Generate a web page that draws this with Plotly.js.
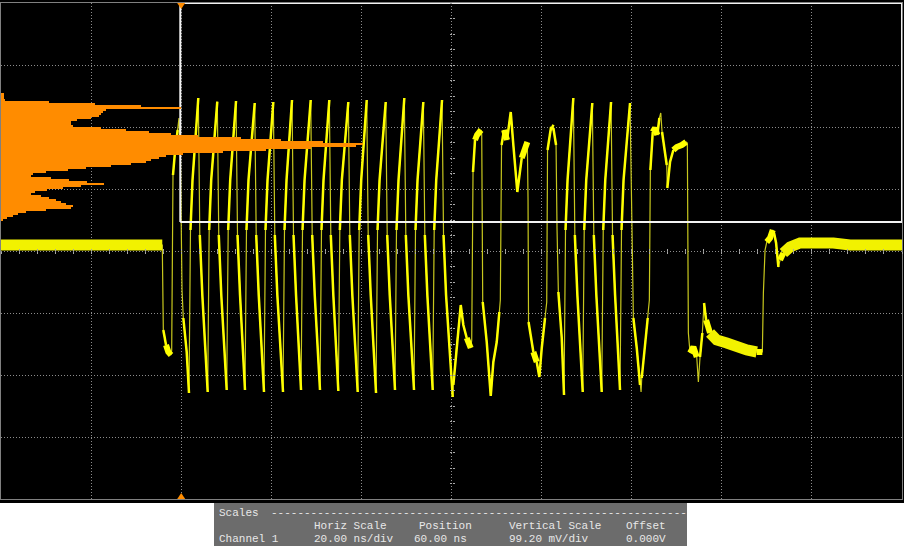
<!DOCTYPE html>
<html><head><meta charset="utf-8">
<script src="https://cdn.plot.ly/plotly-3.0.1.min.js"></script>
<style>html,body{margin:0;padding:0;background:#fff;}#chart{width:904px;height:546px;}</style>
</head><body><div id="chart"></div>
<script>
// ---- scope settings ----
const hScaleNs = 20, positionNs = 60, vScaleMv = 99.2, offsetV = 0;
const nDivX = 10, nDivY = 8;
const triggerNs = [0];
const channelName = "Channel 1";

// ---- channel 1 waveform (time ns, voltage mV) ----
const waveNs = [-40.00,-4.20,-3.97,-3.37,-2.86,-2.26,-2.11,-1.82,-1.38,-0.78,-0.49,-0.16,0.18,0.47,1.22,
1.73,2.06,2.51,3.80,4.13,4.69,
5.88,6.21,6.66,8.01,8.34,8.90,
10.10,10.43,10.88,12.17,12.50,13.06,
14.16,14.49,14.94,16.32,16.65,17.21,
18.38,18.71,19.16,20.45,20.78,21.34,
22.60,22.93,23.38,24.60,24.93,25.49,
26.60,26.93,27.38,28.75,29.08,29.64,
30.81,31.14,31.59,32.88,33.21,33.77,
34.88,35.21,35.66,37.10,37.43,37.99,
39.18,39.51,39.96,41.18,41.51,42.07,
43.25,43.58,44.03,45.40,45.73,46.29,
47.46,47.79,48.24,49.53,49.86,50.42,
51.68,52.01,52.46,53.75,54.08,54.64,
55.83,56.16,56.61,57.90,58.23,58.79,
60.27,60.41,61.16,62.05,62.63,63.38,64.27,64.49,64.78,65.22,65.67,66.56,66.71,66.93,67.82,68.71,69.29,70.04,70.62,70.84,71.11,71.66,72.33,73.15,73.73,74.61,75.59,76.83,76.99,77.10,78.17,78.92,79.50,80.03,80.76,81.14,81.32,82.10,82.61,83.21,83.43,83.72,84.47,84.98,
85.31,85.76,87.05,87.38,87.94,
89.13,89.46,89.91,91.26,91.59,92.15,
93.35,93.68,94.13,95.42,95.75,96.31,
97.41,97.74,98.19,99.63,
100.01,100.37,101.12,101.85,102.08,102.23,102.96,103.56,103.92,104.14,104.67,105.18,105.69,106.14,106.45,106.74,107.18,107.78,107.91,108.51,109.25,110.00,111.11,112.07,112.35,112.51,112.58,112.95,113.69,114.44,114.80,115.17,115.68,116.06,116.51,117.39,118.88,121.10,123.32,125.54,127.76,129.00,129.23,129.60,129.98,130.71,131.31,131.60,132.05,132.56,132.93,133.67,135.15,137.37,140.33,144.77,148.47,152.18,155.87,160.00];
const waveMv = [9.6,9.6,-126.4,-150.4,-161.6,-166.4,-158.4,121.6,158.4,193.6,212.8,145.6,-62.4,-107.2,-161.6,
-227.2,33.6,113.6,244.8,25.6,-70.4,
-225.6,33.6,113.6,238.9,25.6,-70.4,
-222.4,33.6,113.6,240.0,25.6,-70.4,
-222.4,33.6,113.6,236.8,25.6,-70.4,
-225.6,33.6,113.6,238.4,25.6,-70.4,
-225.6,33.6,113.6,241.6,25.6,-70.4,
-222.4,33.6,113.6,241.6,25.6,-70.4,
-222.4,33.6,113.6,241.6,25.6,-70.4,
-224.0,33.6,113.6,238.4,25.6,-70.4,
-225.6,33.6,113.6,241.6,25.6,-70.4,
-227.2,33.6,113.6,238.4,25.6,-70.4,
-222.4,33.6,113.6,244.8,25.6,-70.4,
-222.4,33.6,113.6,238.4,25.6,-70.4,
-222.4,33.6,113.6,241.6,25.6,-70.4,
-233.6,-214.4,-150.4,-86.4,-118.4,-139.2,-155.2,-142.4,126.4,177.6,185.6,193.6,185.6,-81.6,-145.6,-232.0,-177.6,-145.6,-97.6,-78.4,169.6,193.6,177.6,222.4,169.6,94.4,148.8,174.4,81.6,-113.6,-161.6,-177.6,-201.6,-155.2,-107.2,-81.6,161.6,198.4,196.8,169.6,33.6,-65.6,-139.2,-230.4,
33.6,113.6,244.8,25.6,-70.4,
-225.6,33.6,113.6,236.8,25.6,-70.4,
-225.6,33.6,113.6,238.4,25.6,-70.4,
-222.4,33.6,113.6,236.8,
17.6,-107.2,-155.2,-214.4,-225.6,-203.2,-150.4,-107.2,-78.4,129.6,190.4,196.8,185.6,212.8,220.8,190.4,169.6,137.6,100.8,142.4,161.6,166.4,169.6,174.4,172.8,-78.4,-131.2,-163.2,-153.6,-169.6,-209.6,-169.6,-131.2,-83.2,-110.4,-131.2,-142.4,-147.2,-153.6,-158.4,-161.6,-161.6,-67.2,1.6,14.4,20.8,33.6,28.8,12.8,-25.6,-14.4,-3.2,6.4,12.8,14.4,12.8,9.6,9.6,9.6,9.6];

// ---- vertical histogram of the gated window ----
const histMv = [251.2,248.0,244.8,241.6,238.4,235.2,232.0,228.8,225.6,222.4,219.2,216.0,212.8,209.6,206.4,203.2,200.0,196.8,193.6,190.4,187.2,184.0,180.8,177.6,174.4,171.2,168.0,164.8,161.6,158.4,155.2,152.0,148.8,145.6,142.4,139.2,136.0,132.8,129.6,126.4,123.2,120.0,116.8,113.6,110.4,107.2,104.0,100.8,97.6,94.4,91.2,88.0,84.8,81.6,78.4,75.2,72.0,68.8,65.6,62.4,59.2,56.0,52.8,49.6];
const histHits = [3,3,3,4,48,94,140,180,105,102,100,98,90,76,70,70,72,100,125,148,170,197,240,280,322,362,355,310,265,222,182,165,158,150,145,130,110,85,67,45,32,30,50,68,86,103,80,62,46,34,30,40,48,55,60,65,72,70,45,25,17,12,6,2];
const histBinMv = 3.2;
const histFullScaleHits = 901;
const histWindowNs = [-0.2, 160];
const histWindowMv = [46.4, 396.8];

// ---- geometry ----
const W = 904, H = 546, M = {l:1, r:2, t:3, b:47};
const PW = W - M.l - M.r, PH = H - M.t - M.b;
const px2x = p => (p - M.l) / PW;
const py2y = p => (H - M.b - p) / PH;

const xRange = [positionNs - hScaleNs*nDivX/2, positionNs + hScaleNs*nDivX/2];
const yRange = [offsetV - vScaleMv*nDivY/2, offsetV + vScaleMv*nDivY/2];

// classify each waveform segment: fast edges are drawn thin, slow parts thick, long plateaus as a wide noise band
function kindOf(i){
  const dt = waveNs[i+1] - waveNs[i];
  const sl = Math.abs(waveMv[i+1] - waveMv[i]) / dt;
  if (dt < 0.4) return 'edge';
  if (sl < 25) return dt >= 1.4 ? 'band' : 'flat';
  return 'slow';
}
function segs(kind){
  const xs = [], ys = []; let last = -2;
  for (let i = 0; i < waveNs.length - 1; i++){
    if (kindOf(i) !== kind) continue;
    if (last !== i){ if (xs.length){ xs.push(null); ys.push(null); } xs.push(waveNs[i]); ys.push(waveMv[i]); }
    xs.push(waveNs[i+1]); ys.push(waveMv[i+1]); last = i + 1;
  }
  return {xs, ys};
}
const slow = segs('slow'), flat = segs('flat'), band = segs('band');

const yellow = '#ffff00', orange = '#ff8c00';
const traces = [
  {type:'scatter', mode:'lines', x:waveNs, y:waveMv, line:{color:'rgb(200,200,30)', width:1.2}, hoverinfo:'skip'},
  {type:'scatter', mode:'lines', x:slow.xs, y:slow.ys, line:{color:yellow, width:2.5}, connectgaps:false, hoverinfo:'skip'},
  {type:'scatter', mode:'lines', x:flat.xs, y:flat.ys, line:{color:yellow, width:6}, connectgaps:false, hoverinfo:'skip'},
  {type:'scatter', mode:'lines', x:band.xs, y:band.ys, line:{color:'#f2f200', width:11}, connectgaps:false, hoverinfo:'skip'},
  {type:'scatter', mode:'lines',
   x:[histWindowNs[0], histWindowNs[1], histWindowNs[1], histWindowNs[0], histWindowNs[0]],
   y:[histWindowMv[0], histWindowMv[0], histWindowMv[1], histWindowMv[1], histWindowMv[0]],
   line:{color:'#f2f2f2', width:2}, hoverinfo:'skip'},
  {type:'bar', orientation:'h', x:histHits, y:histMv, width:histBinMv, xaxis:'x2', yaxis:'y',
   marker:{color:orange, line:{width:0}}, hoverinfo:'skip'},
  {type:'scatter', x:[], y:[], xaxis:'x3', yaxis:'y', hoverinfo:'skip'},
  {type:'scatter', x:[], y:[], xaxis:'x4', yaxis:'y', hoverinfo:'skip'},
  {type:'scatter', x:[], y:[], xaxis:'x', yaxis:'y3', hoverinfo:'skip'},
  {type:'scatter', x:[], y:[], xaxis:'x', yaxis:'y4', hoverinfo:'skip'}
];

const gridC = '#8c8c8c', tickC = '#a8a8a8';
const baseX = {range:xRange, autorange:false, tick0:xRange[0], dtick:hScaleNs, showgrid:true, gridcolor:gridC, griddash:'1px,2px', gridwidth:1,
  zeroline:false, showline:true, mirror:true, linecolor:'#808080', linewidth:1, ticks:'', showticklabels:false, fixedrange:true};
const baseY = {range:yRange, autorange:false, tick0:offsetV, dtick:vScaleMv, showgrid:true, gridcolor:gridC, griddash:'1px,2px', gridwidth:1,
  zeroline:false, showline:true, mirror:true, linecolor:'#808080', linewidth:1, ticks:'', showticklabels:false, fixedrange:true};
const cX = (t) => ({overlaying:'x', anchor:'free', position:0.5, range:xRange, autorange:false, tick0:positionNs, dtick:hScaleNs/5,
  ticks:t, ticklen:2, tickwidth:1, tickcolor:tickC, showticklabels:false, showgrid:false, zeroline:false, showline:false, fixedrange:true});
const cY = (t) => ({overlaying:'y', anchor:'free', position:0.5, range:yRange, autorange:false, tick0:offsetV, dtick:vScaleMv/4,
  ticks:t, ticklen:2, tickwidth:1, tickcolor:tickC, showticklabels:false, showgrid:false, zeroline:false, showline:false, fixedrange:true});

const txtFont = {family:'"Liberation Mono", "DejaVu Sans Mono", monospace', size:11, color:'#e8e8e8'};
function ann(text, pxX, pyY){
  return {text, x:px2x(pxX), y:py2y(pyY), xref:'paper', yref:'paper', xanchor:'left', yanchor:'middle',
          showarrow:false, font:txtFont, borderpad:0};
}
const fmt = (v, d) => v.toFixed(d);
const row1 = 512.5, row2 = 525.5, row3 = 538.5;
const annotations = [
  ann('Scales', 218, row1),
  ann('-'.repeat(63), 270, row1),
  ann('Horiz Scale', 313, row2),
  ann('Position', 418, row2),
  ann('Vertical Scale', 508, row2),
  ann('Offset', 625, row2),
  ann(channelName, 218, row3),
  ann(fmt(hScaleNs,2) + ' ns/div', 313, row3),
  ann(fmt(positionNs,2) + ' ns', 413, row3),
  ann(fmt(vScaleMv,2) + ' mV/div', 508, row3),
  ann(fmt(offsetV,3) + 'V', 625, row3)
];

const shapes = [
  {type:'rect', xref:'paper', yref:'paper', x0:-0.01, x1:1.01, y0:py2y(552), y1:py2y(503), fillcolor:'#ffffff', line:{width:0}, layer:'above'},
  {type:'rect', xref:'paper', yref:'paper', x0:px2x(214), x1:px2x(687), y0:py2y(547), y1:py2y(503), fillcolor:'#6c6c6c', line:{width:0}, layer:'above'},
  {type:'path', xref:'x', yref:'y', xsizemode:'pixel', ysizemode:'pixel', xanchor:triggerNs[0], yanchor:yRange[1],
   path:'M-4,0L4,0L0,-6Z', fillcolor:orange, line:{width:0}, layer:'above'},
  {type:'path', xref:'x', yref:'y', xsizemode:'pixel', ysizemode:'pixel', xanchor:triggerNs[0], yanchor:yRange[0],
   path:'M-4,0L4,0L0,6Z', fillcolor:orange, line:{width:0}, layer:'above'}
];

const layout = {
  width:W, height:H, margin:M, paper_bgcolor:'#000000', plot_bgcolor:'#000000', showlegend:false,
  xaxis:baseX, yaxis:baseY,
  xaxis2:{overlaying:'x', anchor:'y', range:[0, histFullScaleHits], autorange:false, visible:false, fixedrange:true},
  xaxis3:cX('outside'), xaxis4:cX('inside'), yaxis3:cY('outside'), yaxis4:cY('inside'),
  bargap:0, shapes, annotations, hovermode:false
};
Plotly.newPlot('chart', traces, layout, {staticPlot:true, displayModeBar:false});
</script>
</body></html>
